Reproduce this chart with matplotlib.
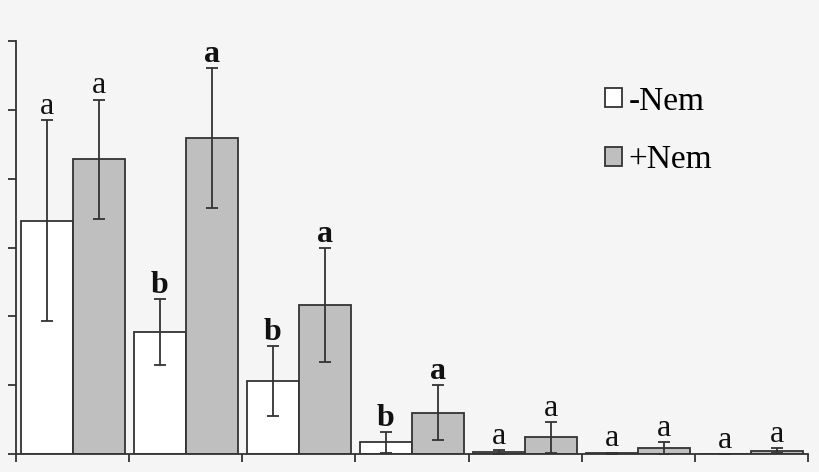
import matplotlib
matplotlib.use("Agg")
import matplotlib.pyplot as plt
from matplotlib.patches import Patch
import numpy as np

# ---- data ----
groups = [1, 2, 3, 4, 5, 6, 7]
minus_nem = [3.39, 1.77, 1.06, 0.17, 0.025, 0.01, 0.0]
minus_err = [1.46, 0.48, 0.51, 0.15, 0.03, 0.01, 0.0]
plus_nem = [4.28, 4.59, 2.16, 0.60, 0.24, 0.08, 0.05]
plus_err = [0.87, 1.02, 0.83, 0.40, 0.22, 0.09, 0.04]
letters_minus = ['a', 'b', 'b', 'b', 'a', 'a', 'a']
letters_plus = ['a', 'a', 'a', 'a', 'a', 'a', 'a']
bold_flags = [False, True, True, True, False, False, False]
series_labels = ['-Nem', '+Nem']

bg = '#f5f5f5'
edge = '#333333'
gray = '#bfbfbf'
serif = ['Liberation Serif', 'DejaVu Serif']

fig = plt.figure(figsize=(8.2, 4.72), dpi=100, facecolor=bg)
W, H = 820, 472
ax = fig.add_axes([16 / W, 1 - 454 / H, (808 - 16) / W, (454 - 41) / H])
ax.set_facecolor(bg)

x = np.arange(len(groups))
bw = 0.46
xm = x - bw / 2
xp = x + bw / 2

ax.bar(xm, minus_nem, width=bw, color='white', edgecolor=edge, linewidth=1.3, zorder=2)
ax.bar(xp, plus_nem, width=bw, color=gray, edgecolor=edge, linewidth=1.3, zorder=2)
ax.errorbar(xm, minus_nem, yerr=minus_err, fmt='none', ecolor=edge, elinewidth=1.3,
            capsize=4, capthick=1.3, zorder=3)
ax.errorbar(xp, plus_nem, yerr=plus_err, fmt='none', ecolor=edge, elinewidth=1.3,
            capsize=4, capthick=1.3, zorder=3)

for i in range(len(groups)):
    for xx, v, e, lab in ((xm[i], minus_nem[i], minus_err[i], letters_minus[i]),
                          (xp[i], plus_nem[i], plus_err[i], letters_plus[i])):
        ax.annotate(lab, (xx, v + e), xytext=(0, 4.5), textcoords='offset points',
                    ha='center', va='baseline', fontsize=23, family=serif,
                    fontweight='bold' if bold_flags[i] else 'normal',
                    color='#111111', annotation_clip=False)

ax.set_xlim(-0.5, len(groups) - 0.5)
ax.set_ylim(0, 6)
ax.set_yticks(np.arange(0, 7, 1))
ax.set_yticklabels([])
ax.set_xticks(np.arange(-0.5, len(groups), 1))
ax.set_xticklabels([])
ax.tick_params(axis='both', direction='out', length=6, width=1.3, color=edge)
for s in ('top', 'right'):
    ax.spines[s].set_visible(False)
for s in ('left', 'bottom'):
    ax.spines[s].set_color(edge)
    ax.spines[s].set_linewidth(1.3)

handles = [Patch(facecolor='white', edgecolor=edge, linewidth=1.3),
           Patch(facecolor=gray, edgecolor=edge, linewidth=1.3)]
leg = fig.legend(handles, series_labels, loc='upper left',
                 bbox_to_anchor=(605 / W, 1 - 86 / H), frameon=False,
                 prop={'family': serif, 'size': 24},
                 handlelength=0.5, handleheight=0.5, handletextpad=0.2,
                 labelspacing=0.85, borderpad=0, borderaxespad=0)

fig.savefig('out.png', dpi=100, facecolor=bg)
